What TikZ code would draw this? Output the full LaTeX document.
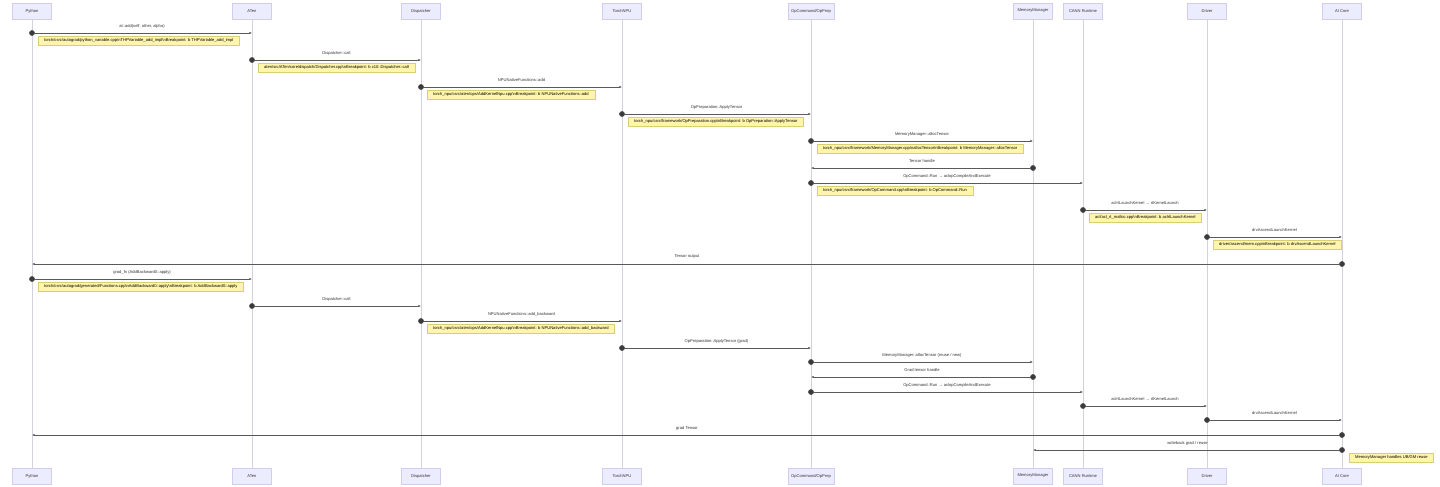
\documentclass[tikz,border=0pt]{standalone}
\usepackage{fontspec}
\setmainfont{Liberation Sans}
\usetikzlibrary{arrows.meta,calc}
\definecolor{partfill}{HTML}{ECECFF}
\definecolor{partdraw}{HTML}{D4CCF0}
\definecolor{lifecol}{HTML}{D2D2DA}
\definecolor{msgcol}{HTML}{5A5A5A}
\definecolor{dotcol}{HTML}{3A3A3A}
\definecolor{notefill}{HTML}{FFF5AD}
\definecolor{notedraw}{HTML}{D8D070}
\definecolor{txtcol}{HTML}{333333}
\newcommand\nlit{\textbackslash n}
\newcommand\seqmsg[4]{%
  \draw[msgline] (#1 |- 0,-#3) -- (#2 |- 0,-#3);
  \filldraw[fill=dotcol, draw=msgcol, line width=0.5pt] (#1 |- 0,-#3) circle (2.6pt);
  \node[lbl] at ($(#1 |- 0,-#3)!0.5!(#2 |- 0,-#3)+(0,7)$) {#4};}
\newcommand\seqnote[3]{%
  \node[note] at ($(#1 |- 0,-#2)+(6,-3)$) {#3};}
\begin{document}
\begin{tikzpicture}[x=1pt,y=1pt,
  part/.style={draw=partdraw, fill=partfill, line width=0.5pt, minimum width=39pt, minimum height=16pt, inner xsep=2pt, inner ysep=1pt, font=\fontsize{4.1}{5}\selectfont, text=txtcol},
  life/.style={draw=lifecol, line width=0.5pt},
  msgline/.style={draw=msgcol, line width=0.55pt, -{Latex[length=2.6pt,width=2.2pt]}},
  lbl/.style={font=\fontsize{4.1}{5}\selectfont, text=txtcol, inner sep=0pt},
  note/.style={draw=notedraw, fill=notefill, line width=0.4pt, anchor=north west, minimum height=9pt, inner xsep=6pt, inner ysep=1pt, font=\fontsize{4.1}{5}\selectfont, text=black}]
\useasboundingbox (0,0) rectangle (1440,-487);
\fill[white] (0,0) rectangle (1440,-487);
% participants
\node[part] (pyT) at (32,-11) {Python};
\node[part] (atT) at (252,-11) {ATen};
\node[part] (diT) at (421,-11) {Dispatcher};
\node[part] (npT) at (622,-11) {TorchNPU};
\node[part, minimum width=46pt] (opT) at (811,-11) {OpCommand/OpPrep};
\node[part] (mmT) at (1033,-11) {MemoryManager};
\node[part] (caT) at (1083,-11) {CANN Runtime};
\node[part] (drT) at (1207,-11) {Driver};
\node[part] (aiT) at (1342,-11) {AI Core};
\node[part] (pyB) at (32,-476) {Python};
\node[part] (atB) at (252,-476) {ATen};
\node[part] (diB) at (421,-476) {Dispatcher};
\node[part] (npB) at (622,-476) {TorchNPU};
\node[part, minimum width=46pt] (opB) at (811,-476) {OpCommand/OpPrep};
\node[part] (mmB) at (1033,-476) {MemoryManager};
\node[part] (caB) at (1083,-476) {CANN Runtime};
\node[part] (drB) at (1207,-476) {Driver};
\node[part] (aiB) at (1342,-476) {AI Core};
\foreach \p in {py,at,di,np,op,mm,ca,dr,ai} \draw[life] (\p T.south) -- (\p B.north);
% forward
\seqmsg{pyT}{atT}{33}{at::add(self, other, alpha)}
\seqnote{pyT}{33}{torch/csrc/autograd/python\_variable.cpp\nlit THPVariable\_add\_impl\nlit Breakpoint: b THPVariable\_add\_impl}
\seqmsg{atT}{diT}{60}{Dispatcher::call}
\seqnote{atT}{60}{aten/src/ATen/core/dispatch/Dispatcher.cpp\nlit Breakpoint: b c10::Dispatcher::call}
\seqmsg{diT}{npT}{87}{NPUNativeFunctions::add}
\seqnote{diT}{87}{torch\_npu/csrc/aten/ops/AddKernelNpu.cpp\nlit Breakpoint: b NPUNativeFunctions::add}
\seqmsg{npT}{opT}{114}{OpPreparation::ApplyTensor}
\seqnote{npT}{114}{torch\_npu/csrc/framework/OpPreparation.cpp\nlit Breakpoint: b OpPreparation::ApplyTensor}
\seqmsg{opT}{mmT}{141}{MemoryManager::allocTensor}
\seqnote{opT}{141}{torch\_npu/csrc/framework/MemoryManager.cpp\nlit allocTensor\nlit Breakpoint: b MemoryManager::allocTensor}
\seqmsg{mmT}{opT}{168}{Tensor handle}
\seqmsg{opT}{caT}{183}{OpCommand::Run → aclopCompileAndExecute}
\seqnote{opT}{183}{torch\_npu/csrc/framework/OpCommand.cpp\nlit Breakpoint: b OpCommand::Run}
\seqmsg{caT}{drT}{210}{aclrtLaunchKernel → rtKernelLaunch}
\seqnote{caT}{210}{acl/acl\_rt\_malloc.cpp\nlit Breakpoint: b aclrtLaunchKernel}
\seqmsg{drT}{aiT}{237}{drvAscendLaunchKernel}
\seqnote{drT}{237}{driver/ascend/mem.cpp\nlit Breakpoint: b drvAscendLaunchKernel}
\seqmsg{aiT}{pyT}{264}{Tensor output}
% backward
\seqmsg{pyT}{atT}{279}{grad\_fn (AddBackward0::apply)}
\seqnote{pyT}{279}{torch/csrc/autograd/generated/Functions.cpp\nlit AddBackward0::apply\nlit Breakpoint: b AddBackward0::apply}
\seqmsg{atT}{diT}{306}{Dispatcher::call}
\seqmsg{diT}{npT}{321}{NPUNativeFunctions::add\_backward}
\seqnote{diT}{321}{torch\_npu/csrc/aten/ops/AddKernelNpu.cpp\nlit Breakpoint: b NPUNativeFunctions::add\_backward}
\seqmsg{npT}{opT}{348}{OpPreparation::ApplyTensor (grad)}
\seqmsg{opT}{mmT}{362}{MemoryManager::allocTensor (reuse / new)}
\seqmsg{mmT}{opT}{377}{Grad tensor handle}
\seqmsg{opT}{caT}{392}{OpCommand::Run → aclopCompileAndExecute}
\seqmsg{caT}{drT}{406}{aclrtLaunchKernel → rtKernelLaunch}
\seqmsg{drT}{aiT}{420}{drvAscendLaunchKernel}
\seqmsg{aiT}{pyT}{435}{grad Tensor}
\seqmsg{aiT}{mmT}{450}{writeback grad / reuse}
\node[note] (reuse) at ($(aiT |- 0,-450)+(7,-3)$) {MemoryManager handles UB/GM reuse};
\end{tikzpicture}
\end{document}
